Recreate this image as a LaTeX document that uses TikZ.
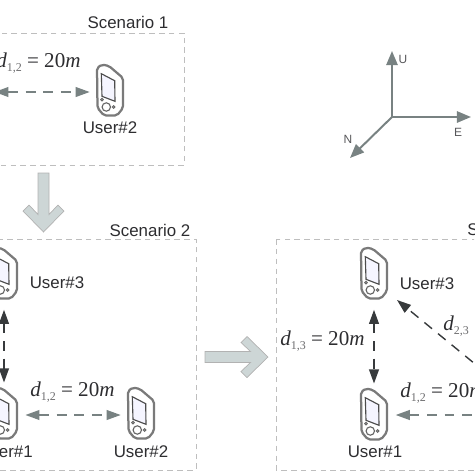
\documentclass[tikz,border=0pt]{standalone}
\usepackage{fontspec}
\setmainfont{Liberation Sans}
\newfontfamily\distfont{Liberation Serif}
\usetikzlibrary{arrows.meta}
\definecolor{framegray}{RGB}{190,190,190}
\definecolor{tipgray}{RGB}{120,130,130}
\definecolor{tipdark}{RGB}{55,58,60}
\definecolor{pale}{RGB}{205,214,214}
\definecolor{ink}{RGB}{45,45,48}
\newcommand{\distsub}[1]{\textit{d}\raisebox{-0.45ex}{\fontsize{8.5}{9}\selectfont\textcolor{ink!70}{#1}}}
\tikzset{
  frame/.style={draw=framegray,line width=0.7pt,dash pattern=on 4pt off 3pt},
  phone/.style={minimum width=18.5pt,minimum height=36pt,inner sep=0pt},
  tag/.style={font=\fontsize{12}{14}\selectfont,text=ink,inner sep=0pt},
  axistag/.style={font=\fontsize{8.5}{10}\selectfont,text=ink!80,inner sep=0pt},
  dist/.style={font=\distfont\fontsize{15}{17}\selectfont,text=ink,inner sep=0pt,anchor=west},
  link/.style={{Triangle[length=10pt,width=7pt]}-{Triangle[length=10pt,width=7pt]},
    draw=#1,line width=1pt,dash pattern=on 7pt off 5.5pt},
  link/.default=tipgray,
  axis/.style={-{Triangle[length=10pt,width=8pt]},draw=tipgray,line width=1.4pt},
  pics/handset/.style={code={
    \draw[black!52,line width=1.6pt,fill=white,rounded corners=1.5pt]
      (-13,-22) -- (-8,-25.5) -- (-1,-24) -- (13,-12) -- (13,18) -- (7,25.5)
      -- (-6,25.5) -- (-12.5,18) -- cycle;
    \draw[black!70,line width=0.8pt,fill=blue!4] (-8.7,-16.3) -- (4.7,-9.3) -- (5,11.3) -- (-8,6.3) -- cycle;
    \draw[black!60,line width=0.8pt] (-3.7,17) circle (4.2);
    \draw[black!60,line width=0.7pt] (-8,9.7) circle (1.3) (3.7,17) circle (1.3);
  }},
  pics/bigarrow/.style={code={
    \draw[draw=black!30,fill=pale,line width=0.5pt] (0,0) -- (-20.5,-21) -- (-14.5,-27) -- (-5.5,-17.5)
      -- (-5.5,-#1) -- (5.5,-#1) -- (5.5,-17.5) -- (14.5,-27) -- (20.5,-21) -- cycle;
  }},
}
\begin{document}
\begin{tikzpicture}[x=0.25mm,y=-0.25mm]
  \useasboundingbox (0,0) rectangle (474,474);
  \clip (0,0) rectangle (474,474);
  % frames
  \draw[frame] (-5,33) rectangle (184,165);
  \draw[frame] (-5,239) rectangle (196,470);
  \draw[frame] (276,239) rectangle (490,470);
  \node[tag] (title1) at (128,22) {Scenario 1};
  \node[tag] (title2) at (150,230) {Scenario 2};
  \node[tag,anchor=west] (title3) at (467,229) {Scenario 3};
  % scenario 1
  \node[phone] (a2) at (110,90) {};
  \coordinate (a1) at (-14,92);
  \pic at (a2) {handset};
  \node[tag] (la2) at (110,128) {User\#2};
  \draw[link,shorten >=5pt,shorten <=6pt] (a1) -- (a2.west|-a1);
  \node[dist] (da) at (-4,63) {\distsub{1,2} = 20\textit{m}};
  % scenario 2
  \node[phone] (b1) at (4,413) {};
  \node[phone] (b2) at (141,413) {};
  \node[phone] (b3) at (4,273) {};
  \foreach \n in {b1,b2,b3} \pic at (\n) {handset};
  \node[tag] (lb1) at (5.5,452) {User\#1};
  \node[tag] (lb2) at (141,452) {User\#2};
  \node[tag] (lb3) at (57,283) {User\#3};
  \coordinate (b1e) at (17,415);
  \draw[link,shorten >=5pt,shorten <=6pt] (b1e) -- (b2.west|-b1e);
  \draw[link=tipdark,shorten >=3.5pt,shorten <=8pt] (b3.south) -- (b1.north);
  \node[dist] (db) at (30,392) {\distsub{1,2} = 20\textit{m}};
  % scenario 3
  \node[phone] (c1) at (374,414) {};
  \node[phone] (c3) at (374,273) {};
  \foreach \n in {c1,c3} \pic at (\n) {handset};
  \coordinate (c2) at (500,415);
  \coordinate (c3d) at (397,300);
  \coordinate (c2d) at (497,382);
  \node[tag] (lc1) at (375,452) {User\#1};
  \node[tag] (lc3) at (427,284) {User\#3};
  \draw[link=tipdark,shorten >=3.5pt,shorten <=8pt] (c3.south) -- (c1.north);
  \draw[link,shorten <=6pt] (c1.east|-c2) -- (c2);
  \draw[link=tipdark] (c2d) -- (c3d);
  \node[dist] (dc13) at (280,341) {\distsub{1,3} = 20\textit{m}};
  \node[dist] (dc12) at (400,393) {\distsub{1,2} = 20\textit{m}};
  \node[dist] (dc23) at (443,326) {\distsub{2,3}};
  % big arrows
  \pic at (43.5,232) {bigarrow=59};
  \pic[rotate=90] at (268,357) {bigarrow=63};
  % axes
  \coordinate (o) at (392,117);
  \coordinate (up) at (392,51);
  \coordinate (east) at (471,117);
  \coordinate (north) at (350,158);
  \draw[axis] (o) -- (up);
  \draw[axis] (o) -- (east);
  \draw[axis] (o) -- (north);
  \node[axistag] (lu) at (403,59) {U};
  \node[axistag] (le) at (458,132) {E};
  \node[axistag] (ln) at (348,139) {N};
\end{tikzpicture}
\end{document}
